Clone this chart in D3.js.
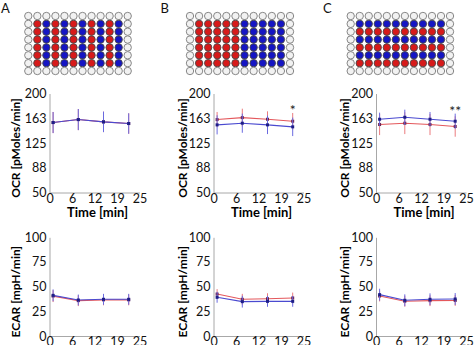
<!DOCTYPE html>
<html>
<head>
<meta charset="utf-8">
<script src="https://cdn.jsdelivr.net/npm/d3@7"></script>
<style>
  body { margin: 0; background: #fff; }
  svg { display: block; font-family: Lato, "Open Sans", sans-serif; }
</style>
</head>
<body>
<div id="container"></div>
<script>
// measurement times (min)
const times = [1, 8, 15, 22]
const timeTicks = [0, 6.25, 12.5, 18.75, 25]
const timeTickLabels = ["0", "6", "12", "19", "25"]

const ocrTicks = [50, 87.5, 125, 162.5, 200]
const ocrTickLabels = ["50", "88", "125", "163", "200"]
const ecarTicks = [0, 25, 50, 75, 100]
const ecarTickLabels = ["0", "25", "50", "75", "100"]

// plate layouts: . empty, R red group, B blue group
const plateA = ["............", ".RBRBRBRBRB.", ".RBRBRBRBRB.", ".RBRBRBRBRB.",
                ".RBRBRBRBRB.", ".RBRBRBRBRB.", ".RBRBRBRBRB.", "............"]
const plateB = ["............", ".RRRRRBBBBB.", ".RRRRRBBBBB.", ".RRRRRBBBBB.",
                ".RRRRRBBBBB.", ".RRRRRBBBBB.", ".RRRRRBBBBB.", "............"]
const plateC = ["............", ".BBBBBBBBBB.", ".RRRRRRRRRR.", ".BBBBBBBBBB.",
                ".RRRRRRRRRR.", ".BBBBBBBBBB.", ".RRRRRRRRRR.", "............"]

// OCR mean / SD
const ocrRedA = [156, 160.5, 157, 154.5]
const ocrRedSdA = [16, 16, 15.5, 15.5]
const ocrBlueA = [156, 160.5, 157, 154.5]
const ocrBlueSdA = [16, 16, 15.5, 15.5]

const ocrRedB = [160.5, 163.5, 161, 158]
const ocrRedSdB = [11.5, 13.5, 12, 12.5]
const ocrBlueB = [152.5, 155, 152.5, 149.5]
const ocrBlueSdB = [14.5, 14.5, 14, 14]

const ocrRedC = [153, 155, 153, 150]
const ocrRedSdC = [16, 16.5, 16, 15.5]
const ocrBlueC = [161, 164, 161, 158]
const ocrBlueSdC = [10, 11.5, 11, 11.5]

// ECAR mean / SD
const ecarRedA = [40.4, 35.8, 36.6, 36.6]
const ecarRedSdA = [6, 5.5, 5.5, 5.5]
const ecarBlueA = [41.2, 36.5, 37.2, 37.2]
const ecarBlueSdA = [6, 5.5, 5.5, 5.5]

const ecarRedB = [42.5, 37.2, 37.8, 38.5]
const ecarRedSdB = [5, 5.5, 5.5, 5.5]
const ecarBlueB = [39.2, 34.8, 35.1, 35.1]
const ecarBlueSdB = [5.5, 6, 5.5, 5.5]

const ecarRedC = [40.5, 35.2, 35.8, 36]
const ecarRedSdC = [5.5, 5.5, 5.5, 5.5]
const ecarBlueC = [41.9, 36.2, 37.2, 37.5]
const ecarBlueSdC = [6, 6, 6, 6]

const panels = [
  { letter: "A", letterX: 1, plate: plateA, plateX: [28.3, 127.7], axisX: 49.5, labelOff: 34,
    ocr: [ocrRedA, ocrRedSdA, ocrBlueA, ocrBlueSdA], ecar: [ecarRedA, ecarRedSdA, ecarBlueA, ecarBlueSdA], mark: "" },
  { letter: "B", letterX: 160.5, plate: plateB, plateX: [190, 290], axisX: 213.5, labelOff: 31,
    ocr: [ocrRedB, ocrRedSdB, ocrBlueB, ocrBlueSdB], ecar: [ecarRedB, ecarRedSdB, ecarBlueB, ecarBlueSdB], mark: "*" },
  { letter: "C", letterX: 323, plate: plateC, plateX: [350.7, 450], axisX: 376, labelOff: 31,
    ocr: [ocrRedC, ocrRedSdC, ocrBlueC, ocrBlueSdC], ecar: [ecarRedC, ecarRedSdC, ecarBlueC, ecarBlueSdC], mark: "**" }
]

const W = 474, H = 345
const plotW = 90
const wellFill = { ".": "#f2f2f2", "R": "#d71a1a", "B": "#1515c4" }
const red = { line: "#e4585c", bar: "#eb7b7e", dot: "#6e1f4a" }
const blue = { line: "#4a4ad0", bar: "#6a6ae0", dot: "#1e1e86" }

const svg = d3.select("div#container")
  .append("svg")
  .attr("width", W)
  .attr("height", H)

function drawPlate(p) {
  const cols = d3.range(12), rows = d3.range(8)
  const cx = d3.scalePoint().domain(cols).range(p.plateX)
  const cy = d3.scalePoint().domain(rows).range([16, 71])
  const wells = []
  p.plate.forEach((row, r) => row.split("").forEach((k, c) => wells.push({ r, c, k })))
  svg.append("g").selectAll("circle")
    .data(wells)
    .enter().append("circle")
      .attr("cx", d => cx(d.c))
      .attr("cy", d => cy(d.r))
      .attr("r", 3.7)
      .attr("fill", d => wellFill[d.k])
      .attr("stroke", d => d.k == "." ? "#7a7a7a" : "#4a4a4a")
      .attr("stroke-width", 0.9)
}

function drawChart(p, opts) {
  const x = d3.scaleLinear().domain([0, 25]).range([p.axisX, p.axisX + plotW])
  const y = d3.scaleLinear().domain(opts.domain).range([opts.bottom, opts.top])
  const g = svg.append("g")

  g.append("g")
    .attr("transform", `translate(${p.axisX},0)`)
    .call(d3.axisLeft(y).tickValues(opts.ticks).tickSize(0).tickPadding(3)
      .tickFormat((d, i) => opts.tickLabels[i]))
  g.append("g")
    .attr("transform", `translate(0,${opts.bottom})`)
    .call(d3.axisBottom(x).tickValues(timeTicks).tickSize(0).tickPadding(1.5)
      .tickFormat((d, i) => timeTickLabels[i]))
  g.selectAll(".domain").attr("stroke", "#a8a8a8")
  g.selectAll(".tick text").attr("font-size", 12.5).attr("fill", "#111")
    .style("font-family", "Lato, sans-serif")

  // axis titles
  g.append("text")
    .attr("transform", `translate(${p.axisX - p.labelOff},${(opts.top + opts.bottom) / 2 + 5}) rotate(-90)`)
    .attr("text-anchor", "middle")
    .attr("dy", "0.35em")
    .attr("font-size", 12)
    .attr("font-weight", "bold")
    .text(opts.label)
  if (opts.xLabel) {
    g.append("text")
      .attr("x", p.axisX + plotW / 2 + 3)
      .attr("y", opts.bottom + 24)
      .attr("text-anchor", "middle")
      .attr("font-size", 13)
      .attr("font-weight", "bold")
      .text(opts.xLabel)
  }

  const [rm, rs, bm, bs] = opts.series
  const series = [
    { mean: rm, sd: rs, c: red },
    { mean: bm, sd: bs, c: blue }
  ]
  const line = d3.line().x((d, i) => x(times[i])).y(d => y(d))

  series.forEach(s => {
    g.append("g").selectAll("line")
      .data(s.mean)
      .enter().append("line")
        .attr("x1", (d, i) => x(times[i]))
        .attr("x2", (d, i) => x(times[i]))
        .attr("y1", (d, i) => y(d - s.sd[i]))
        .attr("y2", (d, i) => y(d + s.sd[i]))
        .attr("stroke", s.c.bar)
        .attr("stroke-width", 1)
    g.append("path")
      .datum(s.mean)
      .attr("fill", "none")
      .attr("stroke", s.c.line)
      .attr("stroke-width", 1.1)
      .attr("d", line)
    g.append("g").selectAll("rect")
      .data(s.mean)
      .enter().append("rect")
        .attr("x", (d, i) => x(times[i]) - 1.5)
        .attr("y", d => y(d) - 1.5)
        .attr("width", 3)
        .attr("height", 3)
        .attr("fill", s.c.dot)
  })

  if (opts.mark) {
    const last = times.length - 1
    const top = d3.max(series, s => s.mean[last] + s.sd[last])
    g.append("text")
      .attr("x", x(times[last]))
      .attr("y", y(top) + 2)
      .attr("text-anchor", "middle")
      .attr("font-size", 14)
      .attr("fill", "#222")
      .text(opts.mark)
  }
}

panels.forEach(p => {
  svg.append("text")
    .attr("x", p.letterX)
    .attr("y", 12.5)
    .attr("font-size", 13)
    .attr("fill", "#111")
    .text(p.letter)
  drawPlate(p)
  drawChart(p, { domain: [50, 200], top: 93.5, bottom: 192.5, ticks: ocrTicks, tickLabels: ocrTickLabels,
    label: "OCR [pMoles/min]", xLabel: "Time [min]", series: p.ocr, mark: p.mark })
  drawChart(p, { domain: [0, 100], top: 237.3, bottom: 336, ticks: ecarTicks, tickLabels: ecarTickLabels,
    label: "ECAR [mpH/min]", series: p.ecar })
})
</script>
</body>
</html>
